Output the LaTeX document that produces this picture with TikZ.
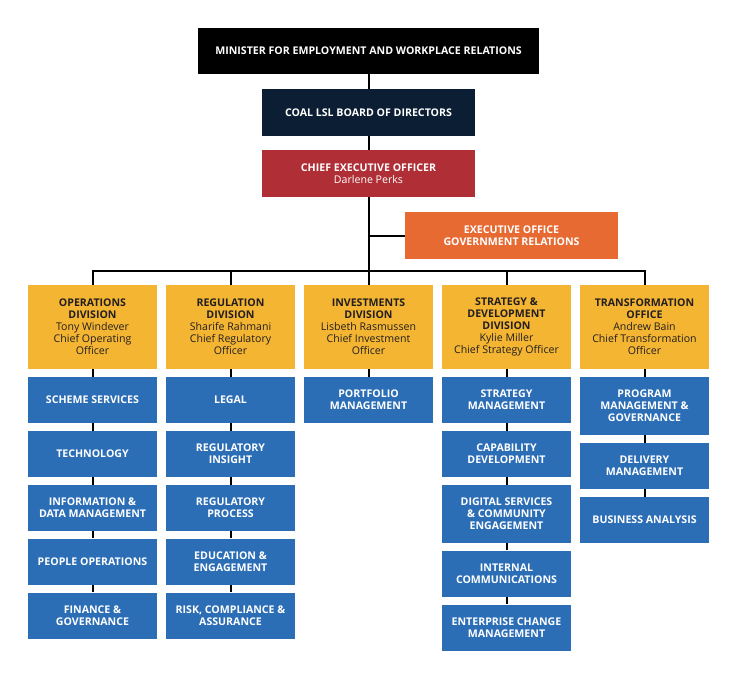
\documentclass[tikz,border=0pt]{standalone}
\usepackage{fontspec}
\setmainfont{Open Sans}
\usetikzlibrary{positioning}

\definecolor{ministerblack}{HTML}{000000}
\definecolor{boardnavy}{HTML}{0B1E33}
\definecolor{ceored}{HTML}{B02F36}
\definecolor{execorange}{HTML}{E86A33}
\definecolor{divyellow}{HTML}{F4B533}
\definecolor{unitblue}{HTML}{2B6EB6}
\definecolor{divtext}{HTML}{231F20}

\tikzset{
  box/.style={minimum width=129pt, minimum height=46pt, inner sep=0pt, align=center,
    font=\fontsize{10.6}{11.9}\selectfont\bfseries},
  top/.style={box, text=white, minimum width=213pt, minimum height=47pt},
  division/.style={box, fill=divyellow, text=divtext, minimum height=84pt},
  unit/.style={box, fill=unitblue, text=white},
  tallunit/.style={unit, minimum height=58pt},
  link/.style={line width=2pt},
  node distance=7.5pt
}

\begin{document}
\begin{tikzpicture}[x=1pt,y=-1pt]
\useasboundingbox (0,0) rectangle (737,680);

% top of the chart
\node[top, fill=ministerblack, minimum width=341pt, minimum height=46pt] (minister) at (368.5,51) {MINISTER FOR EMPLOYMENT AND WORKPLACE RELATIONS};
\node[top, fill=boardnavy] (board) at (368.5,112.5) {COAL LSL BOARD OF DIRECTORS};
\node[top, fill=ceored] (ceo) at (368.5,173.5) {CHIEF EXECUTIVE OFFICER\\\mdseries Darlene Perks};
\node[top, fill=execorange] (exec) at (511.5,235.5) {EXECUTIVE OFFICE\\GOVERNMENT RELATIONS};
\coordinate (bus) at (368.5,271);

% divisions
\node[division] (ops) at (92.5,327) {OPERATIONS\\DIVISION\\\mdseries Tony Windever\\\mdseries Chief Operating\\\mdseries Officer};
\node[division] (reg) at (230.5,327) {REGULATION\\DIVISION\\\mdseries Sharife Rahmani\\\mdseries Chief Regulatory\\\mdseries Officer};
\node[division] (inv) at (368.5,327) {INVESTMENTS\\DIVISION\\\mdseries Lisbeth Rasmussen\\\mdseries Chief Investment\\\mdseries Officer};
\node[division] (strat) at (506.5,327) {STRATEGY \&\\DEVELOPMENT\\DIVISION\\\mdseries Kylie Miller\\\mdseries Chief Strategy Officer};
\node[division] (trans) at (644.5,327) {TRANSFORMATION\\OFFICE\\\mdseries Andrew Bain\\\mdseries Chief Transformation\\\mdseries Officer};

% operations units
\node[unit, below=of ops] (ops1) {SCHEME SERVICES};
\node[unit, below=of ops1] (ops2) {TECHNOLOGY};
\node[unit, below=of ops2] (ops3) {INFORMATION \&\\DATA MANAGEMENT};
\node[unit, below=of ops3] (ops4) {PEOPLE OPERATIONS};
\node[unit, below=of ops4] (ops5) {FINANCE \&\\GOVERNANCE};

% regulation units
\node[unit, below=of reg] (reg1) {LEGAL};
\node[unit, below=of reg1] (reg2) {REGULATORY\\INSIGHT};
\node[unit, below=of reg2] (reg3) {REGULATORY\\PROCESS};
\node[unit, below=of reg3] (reg4) {EDUCATION \&\\ENGAGEMENT};
\node[unit, below=of reg4] (reg5) {RISK, COMPLIANCE \&\\ASSURANCE};

% investments units
\node[unit, below=of inv] (inv1) {PORTFOLIO\\MANAGEMENT};

% strategy units
\node[unit, below=of strat] (strat1) {STRATEGY\\MANAGEMENT};
\node[unit, below=of strat1] (strat2) {CAPABILITY\\DEVELOPMENT};
\node[tallunit, below=of strat2] (strat3) {DIGITAL SERVICES\\\& COMMUNITY\\ENGAGEMENT};
\node[unit, below=of strat3] (strat4) {INTERNAL\\COMMUNICATIONS};
\node[unit, below=of strat4] (strat5) {ENTERPRISE CHANGE\\MANAGEMENT};

% transformation units
\node[tallunit, below=of trans] (trans1) {PROGRAM\\MANAGEMENT \&\\GOVERNANCE};
\node[unit, below=of trans1] (trans2) {DELIVERY\\MANAGEMENT};
\node[unit, below=of trans2] (trans3) {BUSINESS ANALYSIS};

% connectors
\draw[link] (minister) -- (board);
\draw[link] (board) -- (ceo);
\draw[link] (ceo) -- (bus);
\draw[link] (exec.west) -- (exec.west -| ceo.south);
\draw[link] (ops.north) |- (bus) -| (trans.north);
\foreach \d in {reg,inv,strat}
  \draw[link] (\d.north) -- (\d.north |- bus);
\foreach \a/\b in {ops/ops1,ops1/ops2,ops2/ops3,ops3/ops4,ops4/ops5,
                   reg/reg1,reg1/reg2,reg2/reg3,reg3/reg4,reg4/reg5,
                   inv/inv1,
                   strat/strat1,strat1/strat2,strat2/strat3,strat3/strat4,strat4/strat5,
                   trans/trans1,trans1/trans2,trans2/trans3}
  \draw[link] (\a) -- (\b);
\end{tikzpicture}
\end{document}
